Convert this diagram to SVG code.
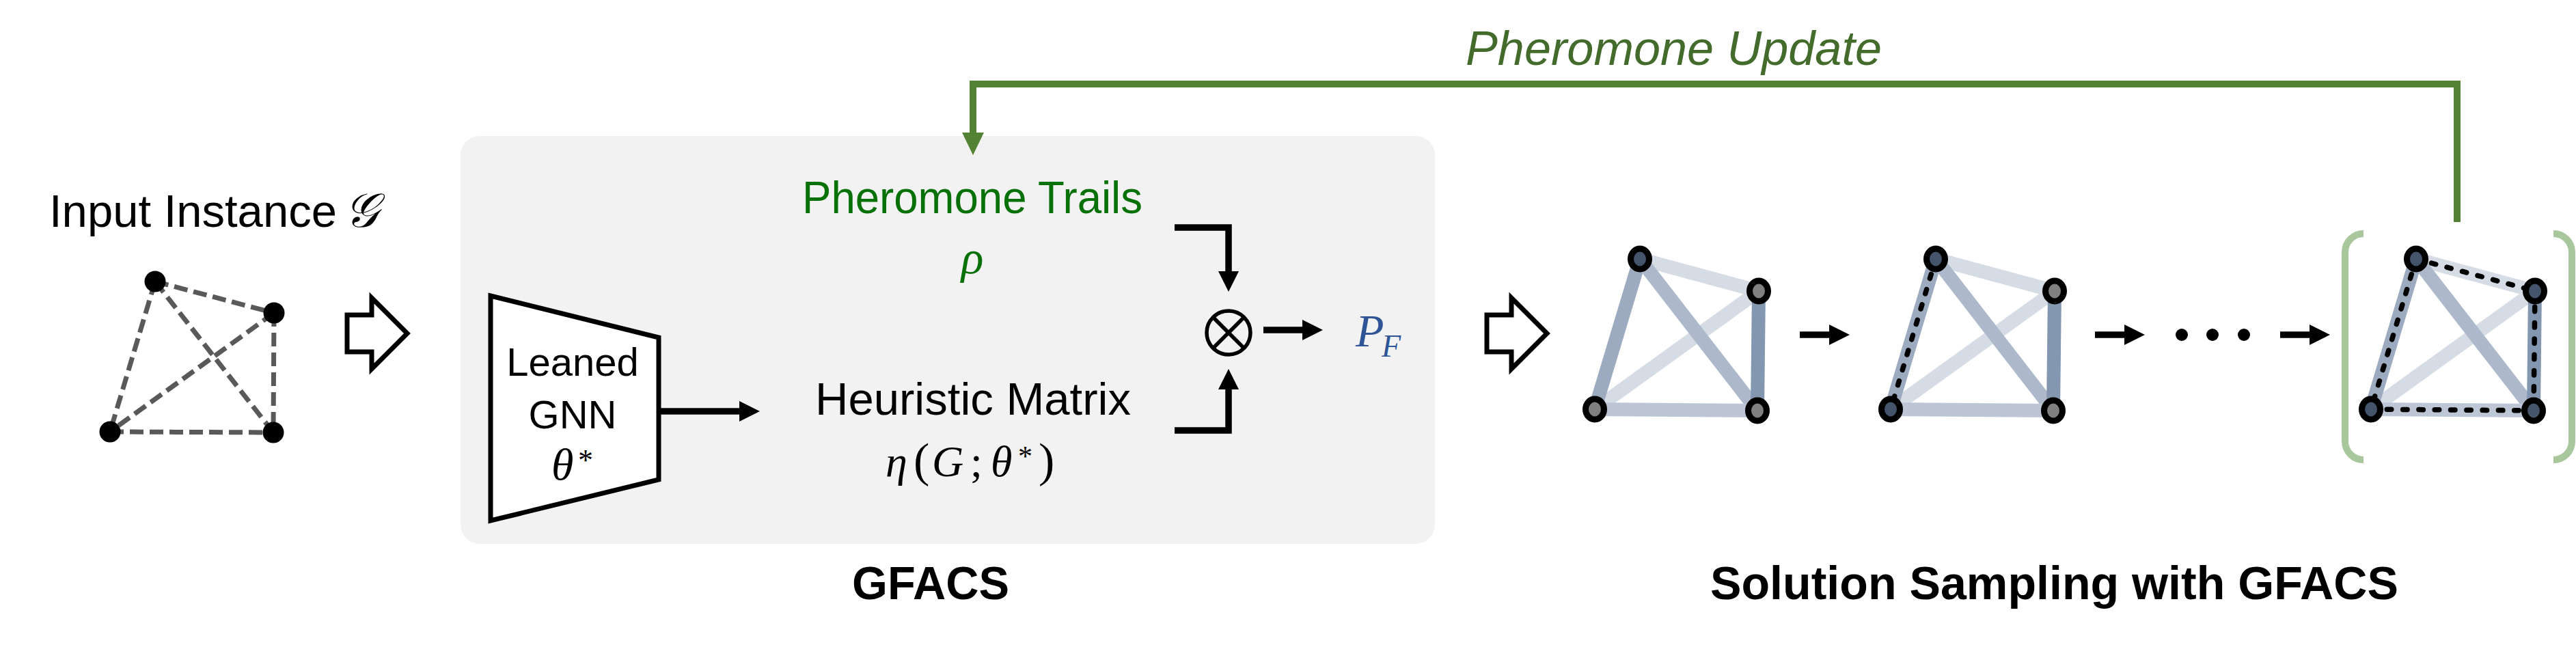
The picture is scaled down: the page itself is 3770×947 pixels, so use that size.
<svg xmlns="http://www.w3.org/2000/svg" width="3770" height="947" viewBox="0 0 3770 947">
<style>
.sans{font-family:"Liberation Sans",Arial,sans-serif}
.math{font-family:"Liberation Serif","DejaVu Serif",serif}
.it{font-style:italic}
.blk{fill:#000}
.conn{fill:none;stroke:#000;stroke-width:9.5;stroke-linejoin:miter}
.gconn{fill:none;stroke:#548235;stroke-width:10;stroke-linejoin:miter}
.idash{stroke:#595959;stroke-width:7;stroke-dasharray:20 9;fill:none}
.band{fill:none;stroke-width:20;stroke-linecap:butt}
.c1{stroke:#9dabc0}.c2{stroke:#adb9ca}.c3{stroke:#d6dce5}.c4{stroke:#8497b0}.c5{stroke:#bcc6d4}
.sol{fill:none;stroke:#000;stroke-width:7.5;stroke-linecap:round;stroke-dasharray:6.5 16.8}
.nd{stroke:#000;stroke-width:9;fill:#44546a}
.ng{stroke:#000;stroke-width:9;fill:#808080}
.hollow{fill:#fff;stroke:#000;stroke-width:7;stroke-linejoin:miter}
.brk{fill:none;stroke:#a9c79c;stroke-width:10}
</style>
<defs>
<marker id="ah" markerUnits="userSpaceOnUse" viewBox="0 -15 30 30" markerWidth="30" markerHeight="30" refX="1" refY="0" orient="auto">
<path d="M0,-15 L30,0 L0,15 Z" fill="#000"/>
</marker>
<marker id="gah" markerUnits="userSpaceOnUse" viewBox="0 -16 33 32" markerWidth="33" markerHeight="32" refX="1" refY="0" orient="auto">
<path d="M0,-16 L33,0 L0,16 Z" fill="#548235"/>
</marker>
<path id="harrow" d="M0,-27 H36 V-52 L88,0 L36,52 V27 H0 Z"/>
<ellipse id="node" rx="13.5" ry="15"/>
</defs>

<!-- GFACS background box -->
<g id="gfacs-box">
<rect x="674" y="199" width="1426" height="597" rx="28" fill="#f2f2f2"/>
</g>

<!-- Input instance -->
<g id="input-instance">
<text class="sans" x="72" y="332" font-size="67">Input Instance <tspan class="math it" x="504" font-size="70">𝒢</tspan></text>
<line class="idash" x1="227" y1="412" x2="401" y2="458"/>
<line class="idash" x1="227" y1="412" x2="161" y2="632"/>
<line class="idash" x1="227" y1="412" x2="400" y2="633"/>
<line class="idash" x1="401" y1="458" x2="161" y2="632"/>
<line class="idash" x1="401" y1="458" x2="400" y2="633"/>
<line class="idash" x1="161" y1="632" x2="400" y2="633"/>
<circle cx="227" cy="412" r="15.5" fill="#000"/>
<circle cx="401" cy="458" r="15.5" fill="#000"/>
<circle cx="161" cy="632" r="15.5" fill="#000"/>
<circle cx="400" cy="633" r="15.5" fill="#000"/>
</g>

<g id="hollow-arrow-1"><use href="#harrow" class="hollow" transform="translate(508,488)"/></g>

<!-- GNN -->
<g id="gnn">
<polygon points="718,433 964,494 964,702 718,762" fill="#fff" stroke="#000" stroke-width="7" stroke-linejoin="miter"/>
<text class="sans" x="838" y="550" font-size="58" text-anchor="middle">Leaned</text>
<text class="sans" x="838" y="627" font-size="58" text-anchor="middle">GNN</text>
<text class="math" x="807" y="702" font-size="66"><tspan class="it">θ</tspan><tspan x="846" y="688" font-size="44">*</tspan></text>
</g>

<!-- Pheromone trails -->
<g id="pheromone-trails">
<text class="sans" x="1423" y="312" font-size="66" text-anchor="middle" textLength="498" lengthAdjust="spacingAndGlyphs" fill="#077007">Pheromone Trails</text>
<text class="math it" x="1423" y="400" font-size="68" text-anchor="middle" fill="#077007">ρ</text>
</g>

<!-- Heuristic matrix -->
<g id="heuristic-matrix">
<text class="sans" x="1424" y="607" font-size="66" text-anchor="middle" textLength="462" lengthAdjust="spacingAndGlyphs">Heuristic Matrix</text>
<text class="math" y="697" font-size="64"><tspan class="it" x="1296">η</tspan><tspan x="1337" font-size="70">(</tspan><tspan class="it" x="1364">G</tspan><tspan x="1420">;</tspan><tspan class="it" x="1450">θ</tspan><tspan x="1490" y="682" font-size="42">*</tspan><tspan x="1520" y="697" font-size="70">)</tspan></text>
</g>

<!-- product -->
<g id="product">
<circle cx="1798" cy="487" r="32" fill="none" stroke="#000" stroke-width="5.5"/>
<line x1="1776" y1="465" x2="1820" y2="509" stroke="#000" stroke-width="5.5"/>
<line x1="1820" y1="465" x2="1776" y2="509" stroke="#000" stroke-width="5.5"/>
</g>

<g id="pf">
<text class="math" fill="#2f5597"><tspan class="it" x="1984" y="507" font-size="68">P</tspan><tspan class="it" x="2022" y="522" font-size="46">F</tspan></text>
</g>

<g id="label-gfacs">
<text class="sans" x="1247" y="877" font-size="68" font-weight="bold" textLength="230" lengthAdjust="spacingAndGlyphs">GFACS</text>
</g>

<g id="hollow-arrow-2"><use href="#harrow" class="hollow" transform="translate(2176,488)"/></g>

<!-- Sample graph 1 -->
<g id="sample-1">
<line class="band c3" x1="2400" y1="379" x2="2574" y2="426"/>
<line class="band c3" x1="2574" y1="426" x2="2334" y2="599"/>
<line class="band c1" x1="2400" y1="379" x2="2334" y2="599"/>
<line class="band c2" x1="2400" y1="379" x2="2572" y2="601"/>
<line class="band c4" x1="2574" y1="426" x2="2572" y2="601"/>
<line class="band c5" x1="2334" y1="599" x2="2572" y2="601"/>
<use href="#node" class="nd" x="2400" y="379"/>
<use href="#node" class="ng" x="2574" y="426"/>
<use href="#node" class="ng" x="2334" y="599"/>
<use href="#node" class="ng" x="2572" y="601"/>
</g>

<!-- Sample graph 2 -->
<g id="sample-2">
<line class="band c3" x1="2833" y1="379" x2="3007" y2="426"/>
<line class="band c3" x1="3007" y1="426" x2="2767" y2="599"/>
<line class="band c1" x1="2833" y1="379" x2="2767" y2="599"/>
<line class="band c2" x1="2833" y1="379" x2="3005" y2="601"/>
<line class="band c4" x1="3007" y1="426" x2="3005" y2="601"/>
<line class="band c5" x1="2767" y1="599" x2="3005" y2="601"/>
<line class="sol" x1="2833" y1="379" x2="2767" y2="599"/>
<use href="#node" class="nd" x="2833" y="379"/>
<use href="#node" class="ng" x="3007" y="426"/>
<use href="#node" class="nd" x="2767" y="599"/>
<use href="#node" class="ng" x="3005" y="601"/>
</g>

<g id="ellipsis">
<circle cx="3193" cy="490" r="9" fill="#000"/>
<circle cx="3238" cy="490" r="9" fill="#000"/>
<circle cx="3284" cy="490" r="9" fill="#000"/>
</g>

<!-- Sample graph 3 (final) -->
<g id="sample-3">
<path class="brk" d="M3459,342 A27,27 0 0 0 3432,369 V646 A27,27 0 0 0 3459,673"/>
<path class="brk" d="M3737,342 A27,27 0 0 1 3764,369 V646 A27,27 0 0 1 3737,673"/>
<line class="band c3" x1="3536" y1="379" x2="3710" y2="426"/>
<line class="band c3" x1="3710" y1="426" x2="3470" y2="599"/>
<line class="band c1" x1="3536" y1="379" x2="3470" y2="599"/>
<line class="band c2" x1="3536" y1="379" x2="3708" y2="601"/>
<line class="band c4" x1="3710" y1="426" x2="3708" y2="601"/>
<line class="band c5" x1="3470" y1="599" x2="3708" y2="601"/>
<line class="sol" x1="3536" y1="379" x2="3710" y2="426"/>
<line class="sol" x1="3536" y1="379" x2="3470" y2="599"/>
<line class="sol" x1="3710" y1="426" x2="3708" y2="601"/>
<line class="sol" x1="3470" y1="599" x2="3708" y2="601"/>
<use href="#node" class="nd" x="3536" y="379"/>
<use href="#node" class="nd" x="3710" y="426"/>
<use href="#node" class="nd" x="3470" y="599"/>
<use href="#node" class="nd" x="3708" y="601"/>
</g>

<g id="label-sampling">
<text class="sans" x="2503" y="877" font-size="68" font-weight="bold" textLength="1007" lengthAdjust="spacingAndGlyphs">Solution Sampling with GFACS</text>
</g>

<g id="label-update">
<text class="sans it" x="2145" y="95" font-size="70" fill="#426b2c" textLength="609" lengthAdjust="spacingAndGlyphs">Pheromone Update</text>
</g>

<!-- connectors -->
<g id="connectors">
<path class="conn" d="M967,602 H1083" marker-end="url(#ah)"/>
<path class="conn" d="M1719,333 H1798 V398" marker-end="url(#ah)"/>
<path class="conn" d="M1719,630 H1798 V569" marker-end="url(#ah)"/>
<path class="conn" d="M1849,483 H1907" marker-end="url(#ah)"/>
<path class="conn" d="M2634,490 H2678" marker-end="url(#ah)"/>
<path class="conn" d="M3066,490 H3110" marker-end="url(#ah)"/>
<path class="conn" d="M3337,490 H3381" marker-end="url(#ah)"/>
<path class="gconn" d="M3596,325 V123 H1424 V195" marker-end="url(#gah)"/>
</g>
</svg>
